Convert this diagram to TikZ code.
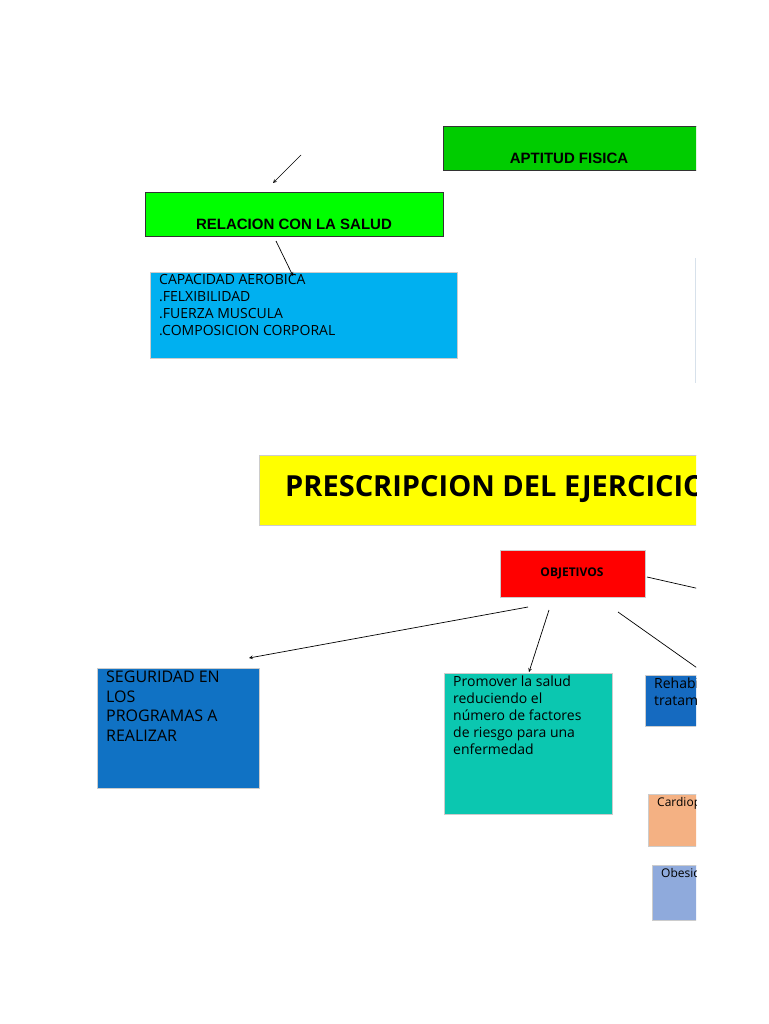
\documentclass[tikz,border=0pt]{standalone}
\usepackage{fontspec}
\setmainfont{Open Sans}
\newfontfamily\arialb{Liberation Sans}
\begin{document}
\begin{tikzpicture}[x=1pt,y=-1pt,
  box/.style={draw=#1!70!gray, line width=0.6pt, inner sep=0, anchor=north west},
  arr/.style={-stealth, line width=0.7pt},
  txt/.style={anchor=north west, align=left, inner sep=0, font=\fontsize{14}{17}\selectfont}]
\useasboundingbox (0,0) rectangle (768,1024);
\begin{scope}
\clip (0,0) rectangle (696,1024);
% top
\fill[fill={rgb,255:red,0;green,204;blue,0}, draw=black!80, line width=0.8pt] (443,126) rectangle (720,170);
\node[font=\arialb\bfseries\fontsize{15}{18}\selectfont] (apt) at (569,158) {APTITUD FISICA};
\fill[fill={rgb,255:red,0;green,255;blue,0}, draw=black!80, line width=0.8pt] (145,192) rectangle (443,236);
\node[font=\arialb\bfseries\fontsize{15}{18}\selectfont] (rel) at (294,224) {RELACION CON LA SALUD};
\fill[fill={rgb,255:red,0;green,176;blue,240}, draw=gray!40] (150,272) rectangle (457,358);
\node[txt] (cap) at (159,274) {CAPACIDAD AEROBICA\\.FELXIBILIDAD\\.FUERZA MUSCULA\\.COMPOSICION CORPORAL};
\coordinate (a1) at (301,155); \coordinate (a2) at (273,183);
\draw[arr] (a1) -- (a2);
\coordinate (b1) at (276,241); \coordinate (b2) at (293,276);
\draw[arr] (b1) -- (b2);
\draw[color={rgb,255:red,215;green,225;blue,235}, line width=0.8pt] (695.5,258) -- (695.5,383);
% middle
\fill[fill={rgb,255:red,255;green,255;blue,0}, draw=gray!40] (259,455) rectangle (720,525);
\node[anchor=west, inner sep=0, font=\bfseries\fontsize{29}{34}\selectfont] (pres) at (285,489) {PRESCRIPCION DEL EJERCICIO};
\fill[fill={rgb,255:red,255;green,0;blue,0}, draw=gray!40] (500,550) rectangle (645,597);
\node[font=\bfseries\fontsize{12}{14}\selectfont] (obj) at (572,573) {OBJETIVOS};
\coordinate (c1) at (647,577); \coordinate (c2) at (700,589);
\draw[line width=0.7pt] (c1) -- (c2);
\coordinate (d1) at (528,607); \coordinate (d2) at (249,658);
\draw[arr] (d1) -- (d2);
\coordinate (e1) at (549,610); \coordinate (e2) at (529,672);
\draw[arr] (e1) -- (e2);
\coordinate (f1) at (618,612); \coordinate (f2) at (700,670);
\draw[line width=0.7pt] (f1) -- (f2);
% bottom boxes
\fill[fill={rgb,255:red,16;green,114;blue,196}, draw=gray!40] (97,668) rectangle (259,788);
\node[txt, font=\fontsize{16}{19.5}\selectfont] (seg) at (106,671) {SEGURIDAD EN\\LOS\\PROGRAMAS A\\REALIZAR};
\fill[fill={rgb,255:red,11;green,199;blue,176}, draw=gray!40] (444,673) rectangle (612,814);
\node[txt] (pro) at (453,676) {Promover la salud\\reduciendo el\\número de factores\\de riesgo para una\\enfermedad};
\fill[fill={rgb,255:red,21;green,106;blue,192}, draw=gray!40] (645,675) rectangle (720,726);
\node[txt] (reh) at (654,678) {Rehabilitación y\\tratamiento};
\fill[fill={rgb,255:red,244;green,177;blue,131}, draw=gray!40] (648,794) rectangle (720,846);
\node[txt, font=\fontsize{12}{14}\selectfont] (car) at (657,797) {Cardiopatías};
\fill[fill={rgb,255:red,143;green,170;blue,220}, draw=gray!40] (652,865) rectangle (720,920);
\node[txt, font=\fontsize{12}{14}\selectfont] (obe) at (661,868) {Obesidad};
\end{scope}
\end{tikzpicture}
\end{document}
